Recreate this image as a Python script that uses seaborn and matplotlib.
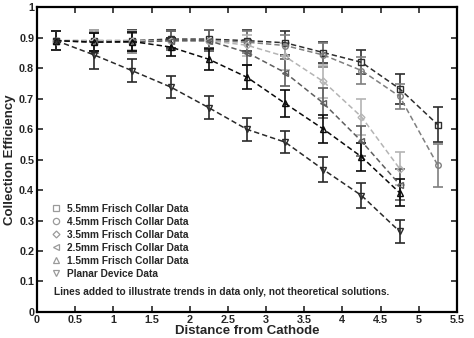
import matplotlib
matplotlib.use("Agg")
import matplotlib.pyplot as plt
import seaborn as sns
import pandas as pd
from matplotlib.lines import Line2D

sns.set_style("ticks")
plt.rcParams['font.family'] = ['Liberation Sans', 'DejaVu Sans']
plt.rcParams['font.weight'] = 'bold'

x_all = [0.25, 0.75, 1.25, 1.75, 2.25, 2.75, 3.25, 3.75, 4.25, 4.75, 5.25]

labels = ["5.5mm Frisch Collar Data", "4.5mm Frisch Collar Data", "3.5mm Frisch Collar Data",
          "2.5mm Frisch Collar Data", "1.5mm Frisch Collar Data", "Planar Device Data"]

y_55 = [0.89, 0.89, 0.89, 0.895, 0.895, 0.89, 0.883, 0.851, 0.819, 0.732, 0.614]
y_45 = [0.89, 0.885, 0.885, 0.89, 0.89, 0.885, 0.874, 0.843, 0.792, 0.707, 0.481]
y_35 = [0.89, 0.89, 0.89, 0.89, 0.89, 0.875, 0.838, 0.756, 0.64, 0.47]
y_25 = [0.89, 0.885, 0.885, 0.89, 0.89, 0.851, 0.785, 0.685, 0.56, 0.418]
y_15 = [0.89, 0.885, 0.887, 0.869, 0.829, 0.770, 0.684, 0.600, 0.509, 0.391]
y_pl = [0.89, 0.843, 0.791, 0.738, 0.670, 0.599, 0.557, 0.467, 0.382, 0.264]

e_55 = [0.03, 0.035, 0.035, 0.03, 0.03, 0.035, 0.04, 0.035, 0.04, 0.05, 0.057]
e_45 = [0.03, 0.035, 0.035, 0.03, 0.035, 0.035, 0.035, 0.04, 0.045, 0.04, 0.07]
e_35 = [0.03, 0.035, 0.03, 0.03, 0.035, 0.035, 0.045, 0.055, 0.06, 0.055]
e_25 = [0.03, 0.03, 0.03, 0.03, 0.035, 0.04, 0.045, 0.05, 0.05, 0.05]
e_15 = [0.03, 0.03, 0.03, 0.03, 0.035, 0.04, 0.045, 0.045, 0.045, 0.045]
e_pl = [0.03, 0.045, 0.038, 0.037, 0.037, 0.037, 0.037, 0.04, 0.04, 0.038]

series = [
    (labels[0], y_55, e_55, 's', '#2e2e2e'),
    (labels[1], y_45, e_45, 'o', '#7f7f7f'),
    (labels[2], y_35, e_35, 'D', '#b4b4b4'),
    (labels[3], y_25, e_25, '<', '#5e5e5e'),
    (labels[4], y_15, e_15, '^', '#0a0a0a'),
    (labels[5], y_pl, e_pl, 'v', '#2a2a2a'),
]

fig = plt.figure(figsize=(4.74, 3.38), dpi=100)
ax = fig.add_axes([0.078, 0.077, 0.886, 0.902])

for name, ys, es, mk, col in series:
    df = pd.DataFrame({"x": x_all[:len(ys)], "y": ys, "e": es})
    ax.errorbar(df["x"], df["y"], yerr=df["e"], fmt='none', ecolor=col,
                elinewidth=1.2, capsize=3.5, capthick=1.2, zorder=2)
    sns.lineplot(data=df, x="x", y="y", ax=ax, color=col, linestyle=(0, (3.5, 2)),
                 linewidth=1.1, marker=mk, markersize=4 if mk != 'D' else 3.5,
                 markeredgecolor=col, markeredgewidth=1.0,
                 legend=False, zorder=3)
    ln = ax.lines[-1]
    ln.set_markerfacecolor('none')
    ln.set_markeredgecolor(col)

ax.set_xlim(0, 5.5)
ax.set_ylim(0, 1)
xt = [0, 0.5, 1, 1.5, 2, 2.5, 3, 3.5, 4, 4.5, 5, 5.5]
yt = [0, 0.1, 0.2, 0.3, 0.4, 0.5, 0.6, 0.7, 0.8, 0.9, 1]
ax.set_xticks(xt)
ax.set_xticklabels([f"{v:g}" for v in xt], fontsize=7.8, fontweight='bold')
ax.set_yticks(yt)
ax.set_yticklabels([f"{v:g}" for v in yt], fontsize=7.8, fontweight='bold')
ax.tick_params(direction='in', top=True, right=True, length=4, width=1.2, pad=2)
for s in ax.spines.values():
    s.set_linewidth(1.6)
    s.set_color('black')
ax.set_xlabel("Distance from Cathode", fontsize=9.5, fontweight='bold', labelpad=0)
ax.set_ylabel("Collection Efficiency", fontsize=9.5, fontweight='bold', labelpad=2)

handles = [Line2D([], [], marker=mk, linestyle='none', color='#9a9a9a', markerfacecolor='none',
                  markersize=4.5 if mk != 'D' else 3.5, markeredgewidth=0.9)
           for _, _, _, mk, _ in series]
leg = ax.legend(handles, labels, loc='lower left', bbox_to_anchor=(0.025, 0.095), frameon=False,
                prop={'size': 7.3, 'weight': 'bold', 'family': ['Liberation Sans']},
                handlelength=0.8, handletextpad=0.7, labelspacing=0.3, borderaxespad=0)
ax.text(0.04, 0.066, "Lines added to illustrate trends in data only, not theoretical solutions.",
        transform=ax.transAxes, fontsize=7.3, fontweight='bold', va='center', ha='left')

fig.savefig("out.png", dpi=100)
